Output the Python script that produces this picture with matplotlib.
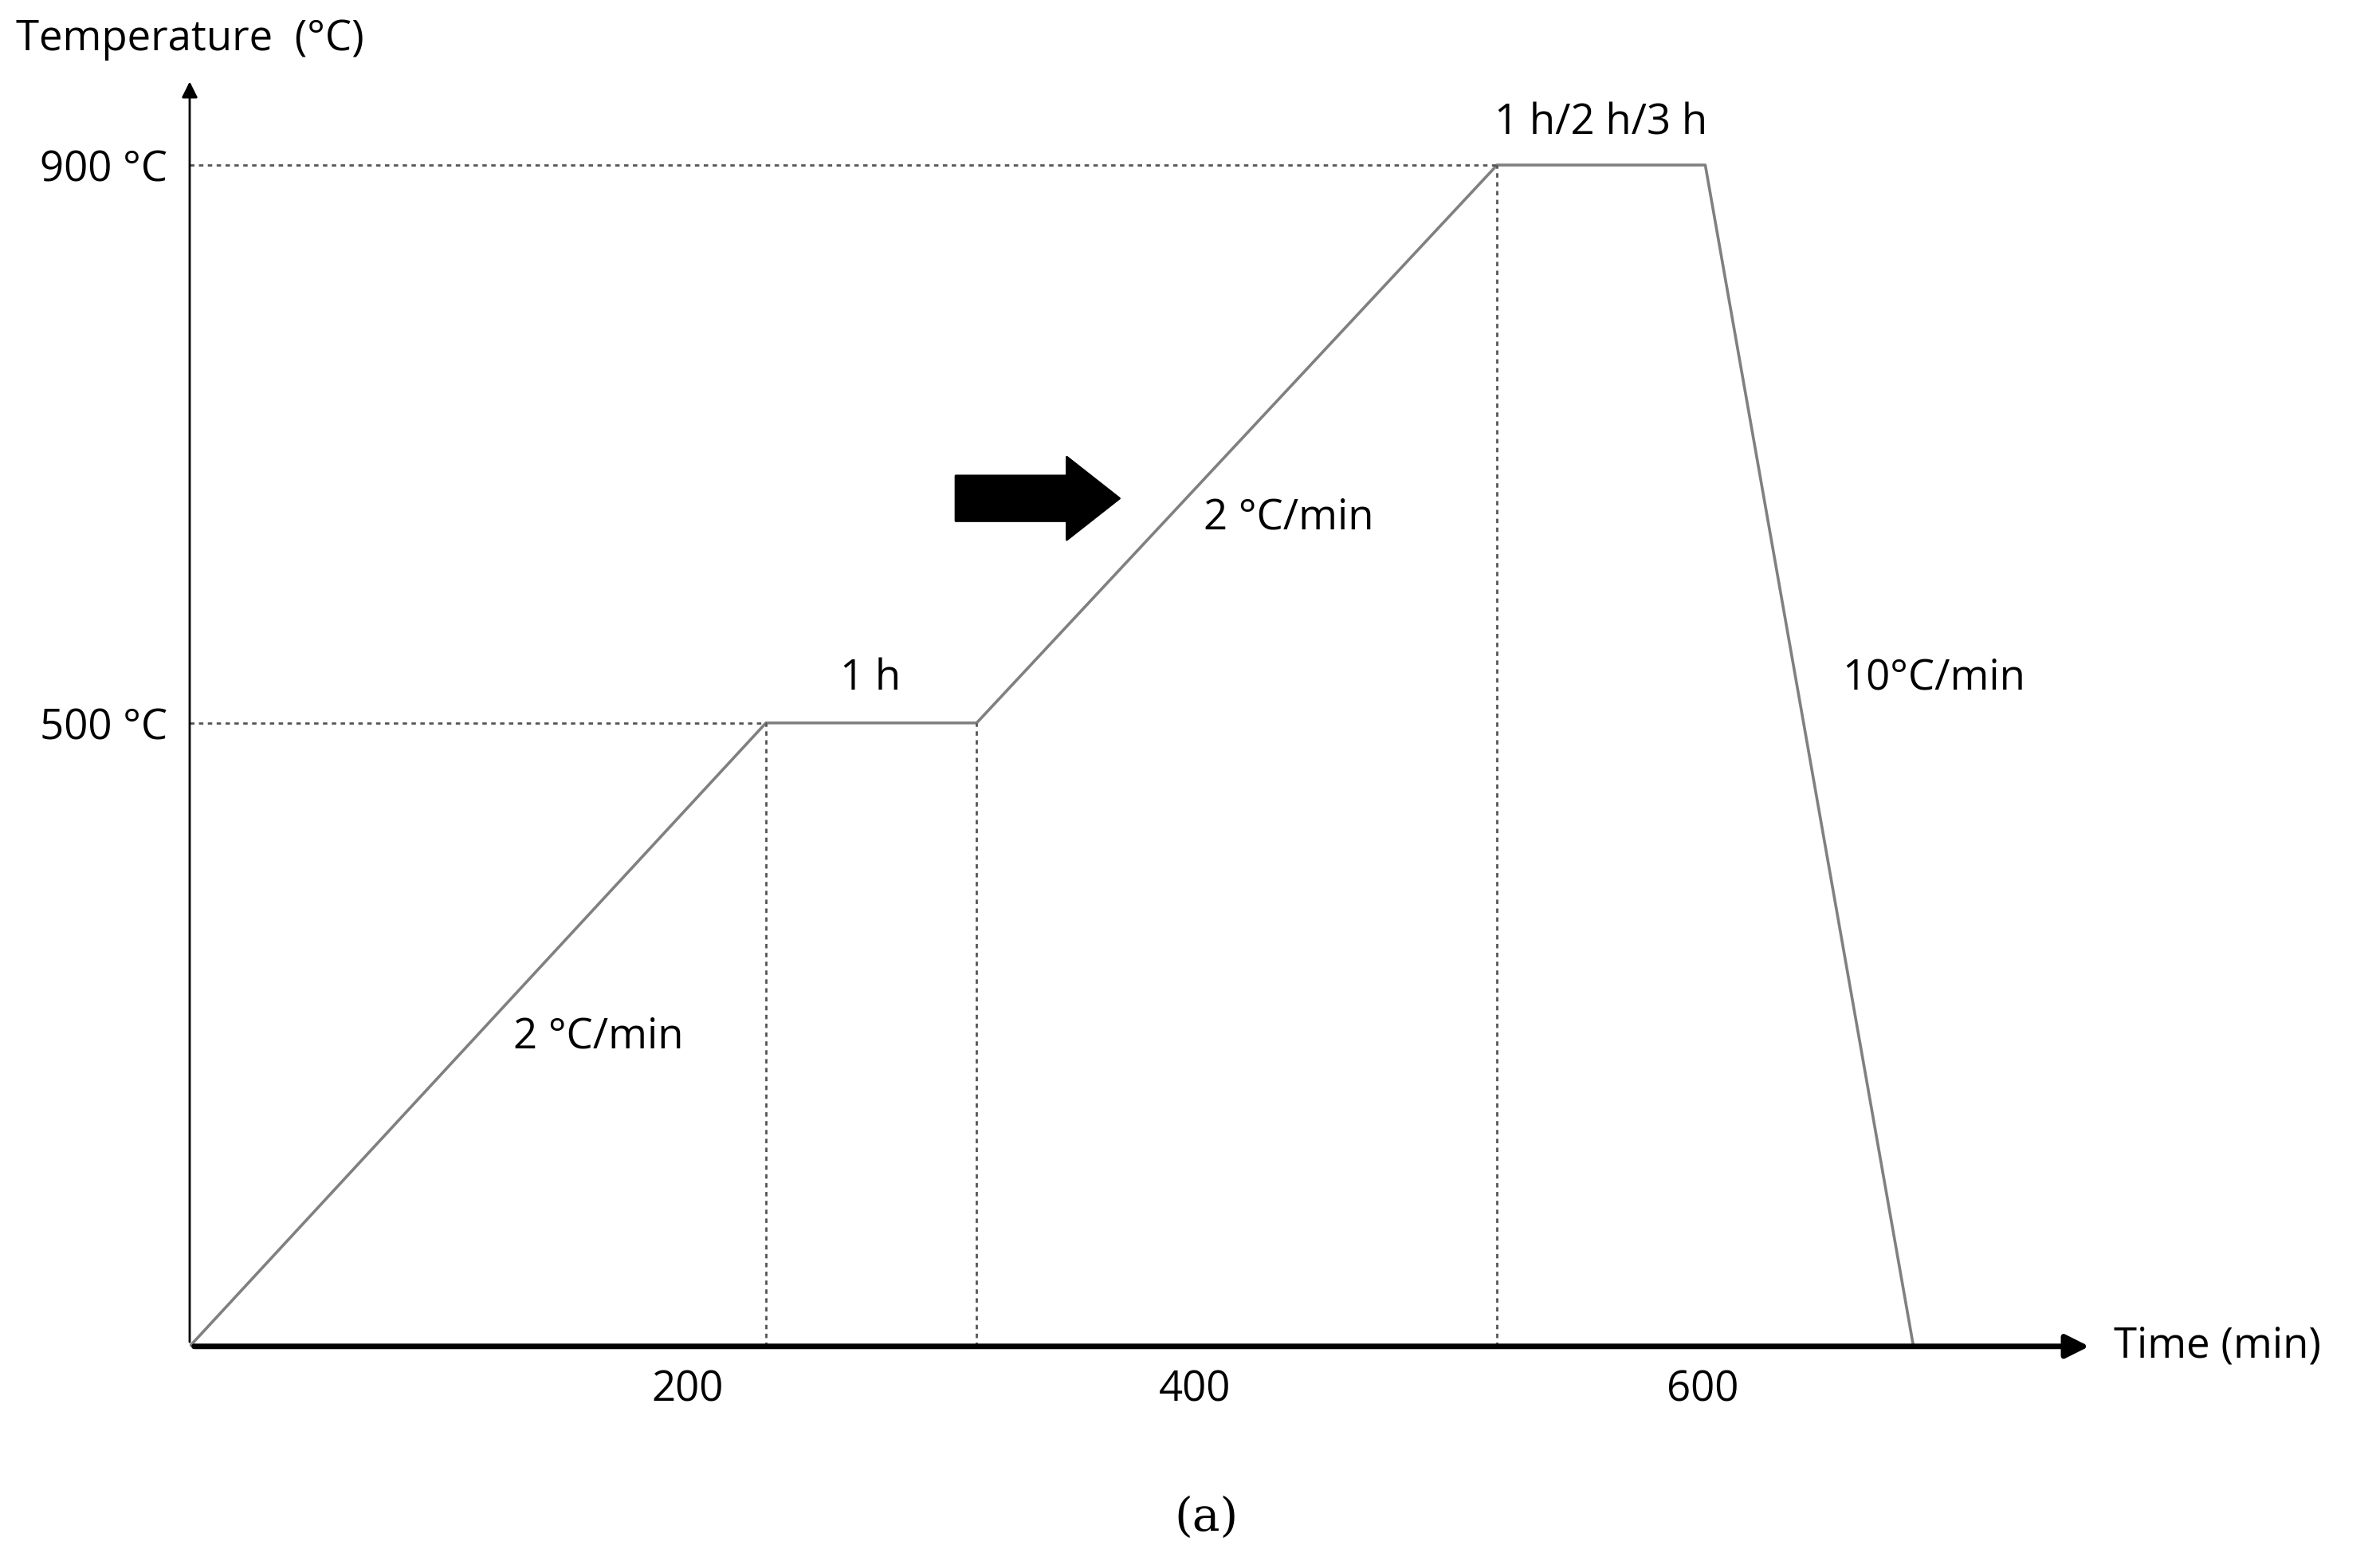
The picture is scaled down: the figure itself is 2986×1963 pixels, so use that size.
import matplotlib.pyplot as plt

plt.rcParams["font.family"] = ["Open Sans", "DejaVu Sans"]

# heating profile (time in min, temperature in °C)
times = [4, 231, 314, 519, 601, 683]
temps = [53, 500, 500, 900, 900, 53]
xtick_vals = [200, 400, 600]
xtick_labels = ["200", "400", "600"]
ytick_vals = [500, 900]
ytick_labels = ["500 °C", "900 °C"]

fig = plt.figure(figsize=(14.93, 9.815), dpi=200)
ax = fig.add_axes([0.0797, 0.1397, 0.80, 0.811])
ax.set_xlim(4, 754)
ax.set_ylim(53, 963)
for s in ax.spines.values():
    s.set_visible(False)

ax.plot(times, temps, color="#808080", lw=1.3)

# dashed guides
dk = dict(color="#555555", lw=1.0, ls=(0, (2, 2)))
ax.plot([4, 231], [500, 500], **dk)
ax.plot([4, 519], [900, 900], **dk)
for t in [231, 314, 519]:
    ax.plot([t, t], [53, temps[times.index(t)]], **dk)

# axes with arrows
ax.annotate("", xy=(754, 53), xytext=(4, 53),
            arrowprops=dict(arrowstyle="-|>", color="black", lw=2.5, mutation_scale=22),
            annotation_clip=False)
ax.annotate("", xy=(4, 963), xytext=(4, 53),
            arrowprops=dict(arrowstyle="-|>", color="black", lw=1.0, mutation_scale=15),
            annotation_clip=False)

ax.set_xticks(xtick_vals)
ax.set_xticklabels(xtick_labels)
ax.set_yticks(ytick_vals)
ax.set_yticklabels(ytick_labels)
ax.tick_params(length=0, labelsize=19, pad=10)

fs = 19
ax.text(762, 53, "Time (min)", fontsize=fs, va="center", ha="left")
ax.text(4, 975, "Temperature  (°C)", fontsize=fs, va="bottom", ha="center")
ax.text(165, 275, "2 °C/min", fontsize=fs, ha="center", va="center")
ax.text(272, 532, "1 h", fontsize=fs, ha="center", va="center")
ax.text(437, 647, "2 °C/min", fontsize=fs, ha="center", va="center")
ax.text(560, 930, "1 h/2 h/3 h", fontsize=fs, ha="center", va="center")
ax.text(691, 532, "10°C/min", fontsize=fs, ha="center", va="center")

# block arrow
ax.annotate("", xy=(372, 661), xytext=(304, 661),
            arrowprops=dict(arrowstyle="simple,head_length=0.7,head_width=1.1,tail_width=0.6",
                            color="black", mutation_scale=34))

fig.text(0.507, 0.03, "(a)", fontsize=21, ha="center", va="center", family="DejaVu Serif")

fig.savefig("out.png", dpi=200)
